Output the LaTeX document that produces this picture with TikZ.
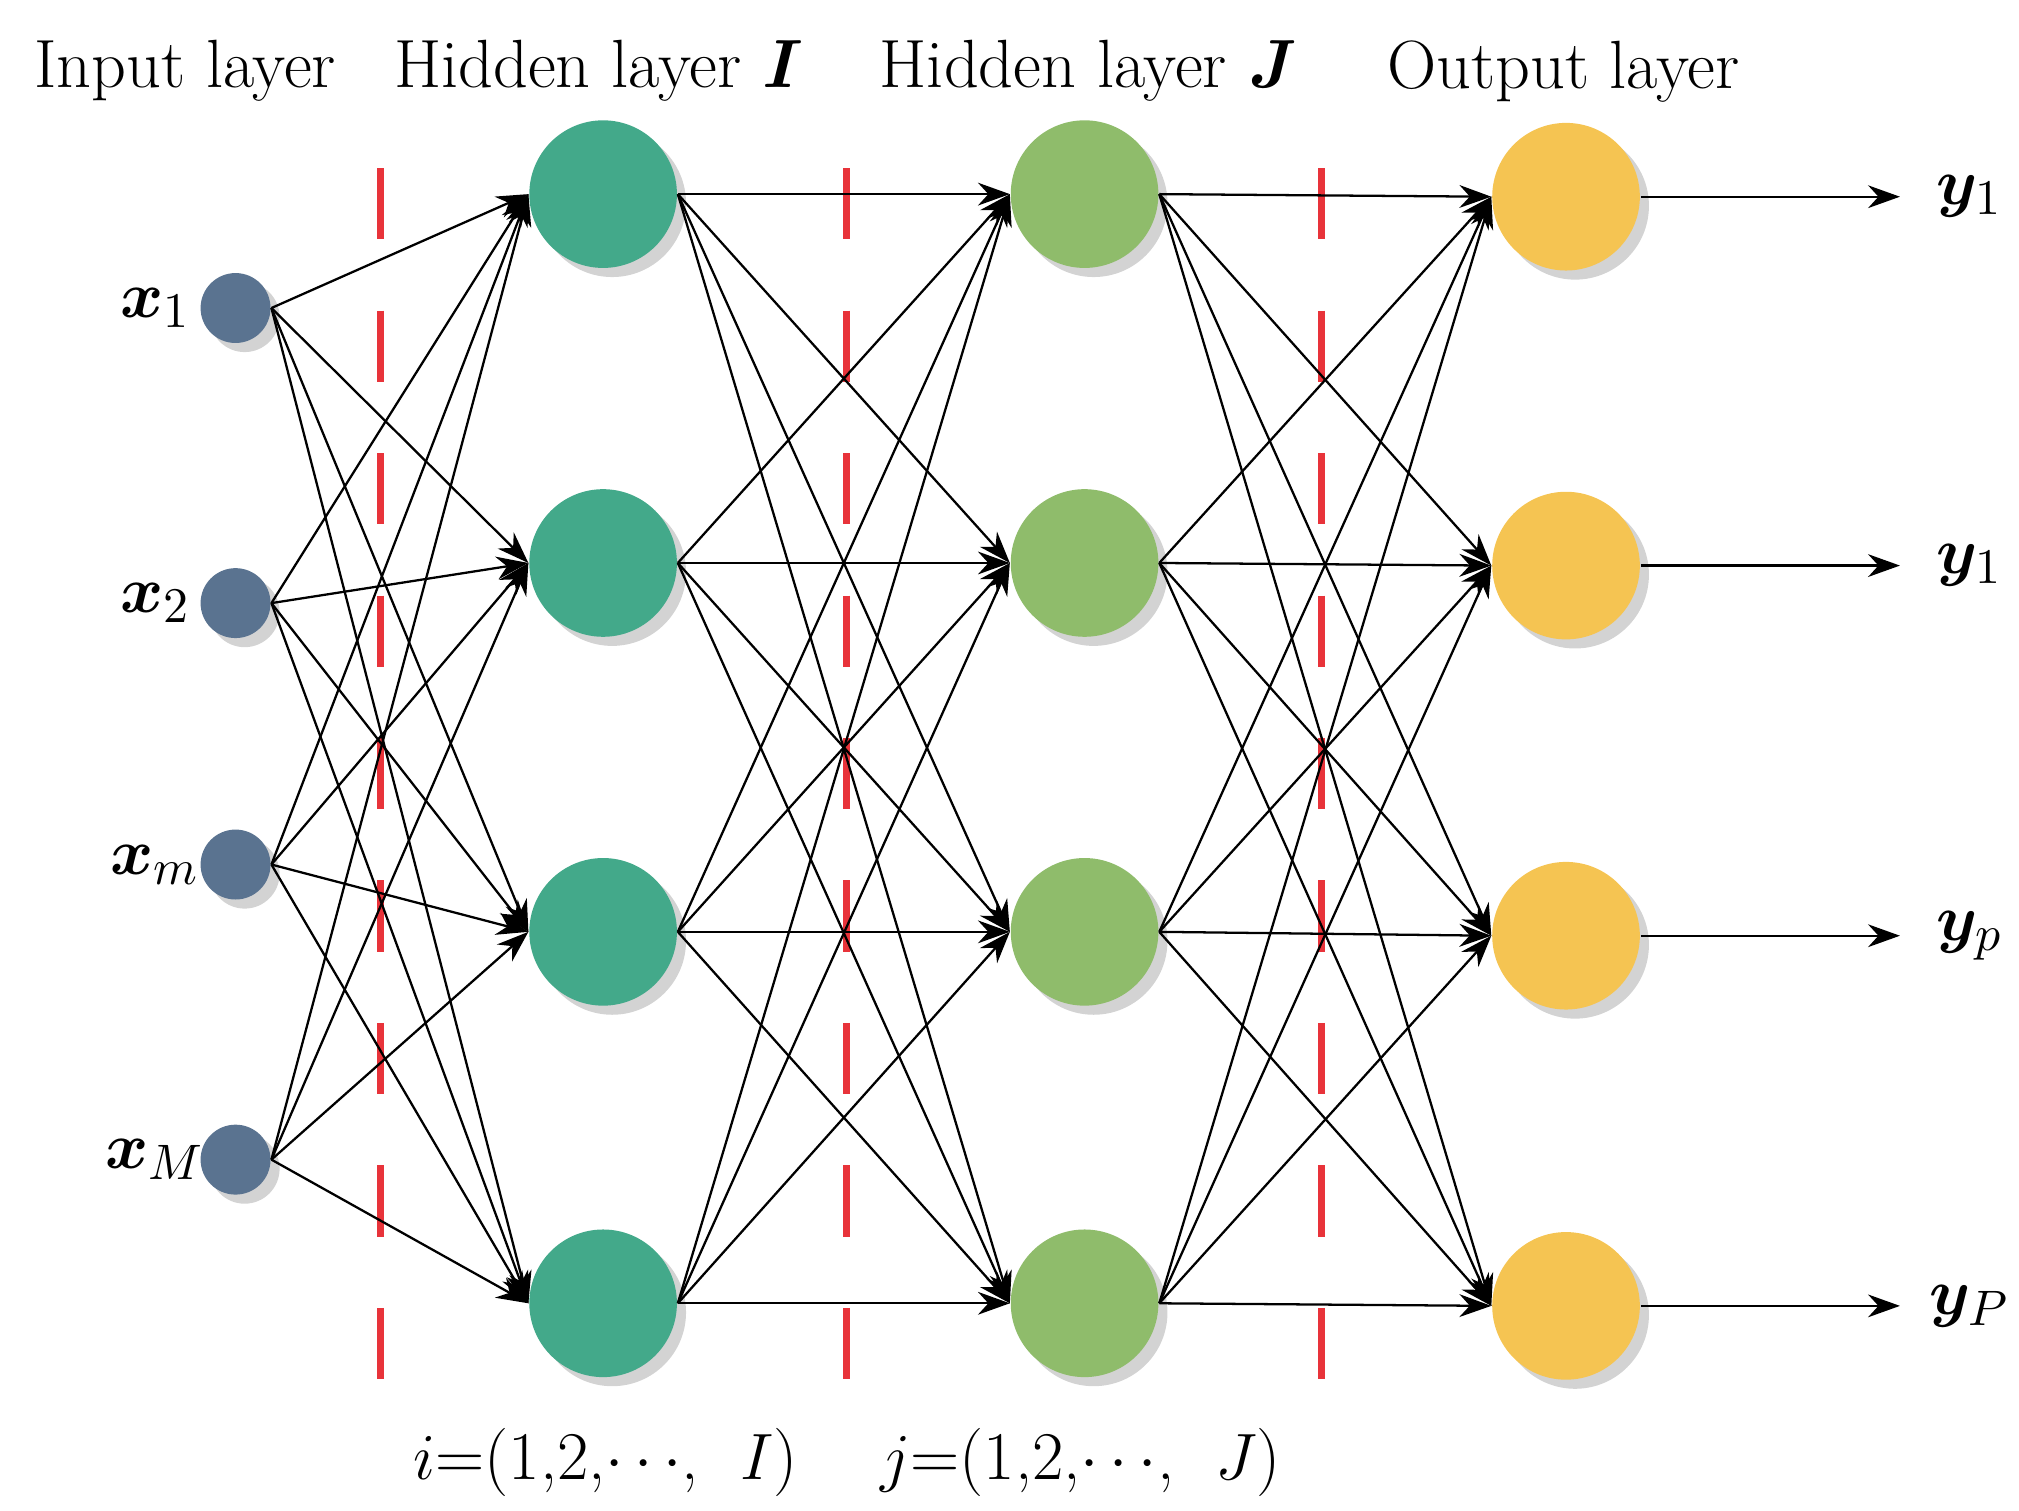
\documentclass[tikz,border=0pt]{standalone}
\usepackage{bm}
\usetikzlibrary{arrows.meta,shadows}
\definecolor{cin}{HTML}{5A7390}
\definecolor{ch1}{HTML}{43A98A}
\definecolor{ch2}{HTML}{8FBC6B}
\definecolor{cout}{HTML}{F5C452}
\definecolor{cred}{HTML}{E8333A}
\begin{document}
\begin{tikzpicture}[x=0.01cm,y=-0.01cm,
  neu/.style={circle,draw=none,inner sep=0pt,drop shadow={shadow xshift=2pt,shadow yshift=-2pt,opacity=0.35}},
  small/.style={neu,minimum size=0.54cm,fill=cin},
  big/.style={neu,minimum size=1.14cm},
  edge/.style={-{Stealth[length=7pt,width=5pt]},line width=0.5pt},
  red/.style={cred,line width=1.6pt,dash pattern=on 0.55cm off 0.55cm},
  lab/.style={font=\fontsize{15}{17}\selectfont}]
\useasboundingbox (0,0) rectangle (1560,1167);
\foreach \x in {294,654,1021}{\draw[red] (\x,130) -- (\x,1072);}
\foreach \y/\i in {238/1,466/2,668/3,896/4}{\node[small] (a\i) at (182,\y) {};}
\foreach \y/\i in {150/1,435/2,720/3,1007/4}{
  \node[big,fill=ch1] (b\i) at (466,\y) {};
  \node[big,fill=ch2] (c\i) at (838,\y) {};}
\foreach \y/\i in {152/1,437/2,723/3,1009/4}{
  \node[big,fill=cout] (d\i) at (1210,\y) {};
  \coordinate (e\i) at (1468,\y);
  \draw[edge] (d\i.east) -- (e\i);}
\foreach \i in {1,...,4}{\foreach \j in {1,...,4}{
  \draw[edge] (a\i.east) -- (b\j.west);
  \draw[edge] (b\i.east) -- (c\j.west);
  \draw[edge] (c\i.east) -- (d\j.west);}}
\node[lab] (t1) at (143,55) {Input layer};
\node[lab] (t2) at (462,55) {Hidden layer \textbf{\textit{I}}};
\node[lab] (t3) at (840,55) {Hidden layer \textbf{\textit{J}}};
\node[lab] (t4) at (1208,55) {Output layer};
\node[lab] (x1) at (120,238) {$\bm{x}_1$};
\node[lab] (x2) at (120,466) {$\bm{x}_2$};
\node[lab] (x3) at (120,668) {$\bm{x}_m$};
\node[lab] (x4) at (120,896) {$\bm{x}_M$};
\node[lab] (y1) at (1522,152) {$\bm{y}_1$};
\node[lab] (y2) at (1522,437) {$\bm{y}_1$};
\node[lab] (y3) at (1522,723) {$\bm{y}_p$};
\node[lab] (y4) at (1522,1009) {$\bm{y}_P$};
\node[lab] (i) at (468,1130) {$i$=(1,2,$\cdots$,\ \ $I$)};
\node[lab] (j) at (835,1130) {$j$=(1,2,$\cdots$,\ \ $J$)};
\end{tikzpicture}
\end{document}
